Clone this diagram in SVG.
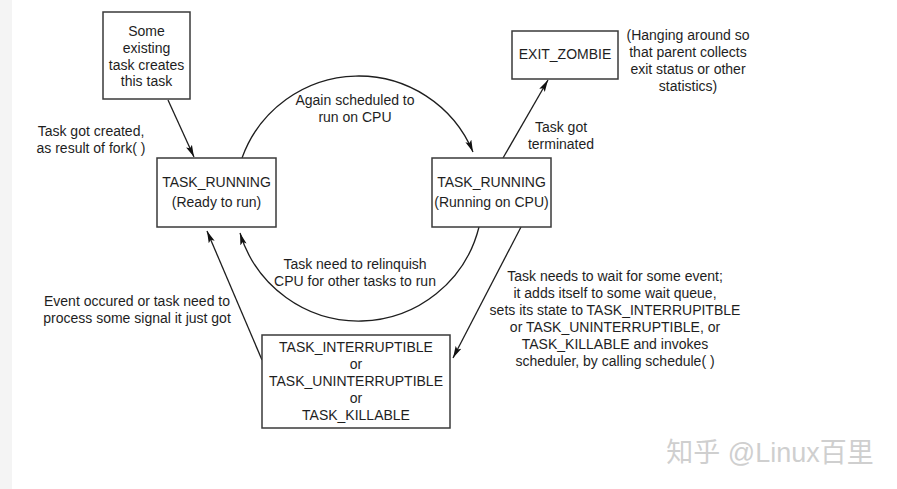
<svg xmlns="http://www.w3.org/2000/svg" width="897" height="489" viewBox="0 0 897 489">
<style>
.box{fill:#fff;stroke:#3a3a3a;stroke-width:1.5}
.t{font-family:"Liberation Sans",Arial,sans-serif;font-size:14px;fill:#1e1e1e;text-anchor:middle}
.c{fill:none;stroke:#1e1e1e;stroke-width:1.3}
.wm{font-family:"Liberation Sans","Noto Sans CJK SC",sans-serif;font-size:27px;fill:#cfcfcf;text-anchor:middle}
</style>
<defs>
<marker id="ah" viewBox="0 0 12 8" refX="12" refY="4" markerWidth="12" markerHeight="8" markerUnits="userSpaceOnUse" orient="auto">
<path d="M0,0.8 L12,4 L0,7.2 L2.5,4 Z" fill="#111"/>
</marker>
</defs>
<rect width="897" height="489" fill="#fff"/>
<rect x="0" y="0" width="12" height="489" fill="#f4f4f4"/>

<g id="connectors">
<path class="c" d="M168,100 L194,157" marker-end="url(#ah)"/>
<path class="c" d="M242,158 A124,124 0 0,1 473,152" marker-end="url(#ah)"/>
<path class="c" d="M503,158 L548,80" marker-end="url(#ah)"/>
<path class="c" d="M479,227 A124,124 0 0,1 240,233" marker-end="url(#ah)"/>
<path class="c" d="M262,360 L207,231" marker-end="url(#ah)"/>
<path class="c" d="M521,227 L453,358" marker-end="url(#ah)"/>
</g>

<g id="creator">
<rect class="box" x="103" y="12" width="87" height="87"/>
<text class="t" x="146.5" y="36">Some</text>
<text class="t" x="146.5" y="53">existing</text>
<text class="t" x="146.5" y="70">task creates</text>
<text class="t" x="146.5" y="86">this task</text>
</g>

<g id="ready">
<rect class="box" x="157" y="158" width="119" height="69"/>
<text class="t" x="216.5" y="187">TASK_RUNNING</text>
<text class="t" x="216.5" y="207">(Ready to run)</text>
</g>

<g id="running">
<rect class="box" x="432" y="158" width="119" height="69"/>
<text class="t" x="491.5" y="187">TASK_RUNNING</text>
<text class="t" x="491.5" y="207">(Running on CPU)</text>
</g>

<g id="zombie">
<rect class="box" x="512" y="31" width="106" height="48"/>
<text class="t" x="565" y="59">EXIT_ZOMBIE</text>
</g>

<g id="sleeping">
<rect class="box" x="262" y="335" width="188" height="93"/>
<text class="t" x="356" y="352">TASK_INTERRUPTIBLE</text>
<text class="t" x="356" y="369">or</text>
<text class="t" x="356" y="386">TASK_UNINTERRUPTIBLE</text>
<text class="t" x="356" y="403">or</text>
<text class="t" x="356" y="420">TASK_KILLABLE</text>
</g>

<g id="labels">
<text class="t" x="91" y="136">Task got created,</text>
<text class="t" x="91" y="153">as result of fork( )</text>
<text class="t" x="355" y="105">Again scheduled to</text>
<text class="t" x="355" y="122">run on CPU</text>
<text class="t" x="561" y="132">Task got</text>
<text class="t" x="561" y="149">terminated</text>
<text class="t" x="688" y="40">(Hanging around so</text>
<text class="t" x="688" y="57">that parent collects</text>
<text class="t" x="688" y="74">exit status or other</text>
<text class="t" x="688" y="91">statistics)</text>
<text class="t" x="355" y="269">Task need to relinquish</text>
<text class="t" x="355" y="286">CPU for other tasks to run</text>
<text class="t" x="137" y="306">Event occured or task need to</text>
<text class="t" x="137" y="323">process some signal it just got</text>
<text class="t" x="615" y="281">Task needs to wait for some event;</text>
<text class="t" x="615" y="298">it adds itself to some wait queue,</text>
<text class="t" x="615" y="315">sets its state to TASK_INTERRUPITBLE</text>
<text class="t" x="615" y="332">or TASK_UNINTERRUPTIBLE, or</text>
<text class="t" x="615" y="349">TASK_KILLABLE and invokes</text>
<text class="t" x="615" y="366">scheduler, by calling schedule( )</text>
</g>

<text class="wm" x="770" y="462">知乎 @Linux百里</text>
</svg>
